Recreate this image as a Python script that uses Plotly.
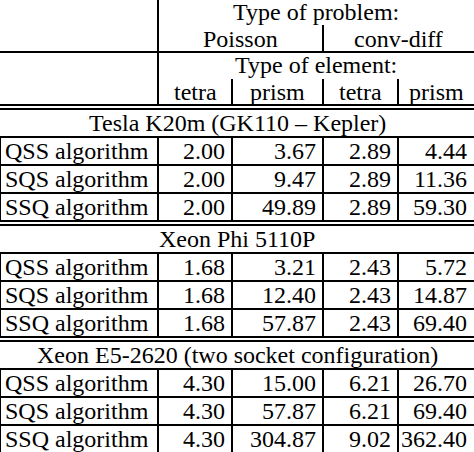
import plotly.graph_objects as go

# data
problems = ["Poisson", "conv-diff"]
elements = ["tetra", "prism", "tetra", "prism"]
devices = ["Tesla K20m (GK110 – Kepler)", "Xeon Phi 5110P", "Xeon E5-2620 (two socket configuration)"]
algorithms = ["QSS algorithm", "SQS algorithm", "SSQ algorithm"]
tesla = [[2.00, 3.67, 2.89, 4.44], [2.00, 9.47, 2.89, 11.36], [2.00, 49.89, 2.89, 59.30]]
xeon_phi = [[1.68, 3.21, 2.43, 5.72], [1.68, 12.40, 2.43, 14.87], [1.68, 57.87, 2.43, 69.40]]
xeon_e5 = [[4.30, 15.00, 6.21, 26.70], [4.30, 57.87, 6.21, 69.40], [4.30, 304.87, 9.02, 362.40]]
values = [tesla, xeon_phi, xeon_e5]

W, H = 474, 452
FONT = dict(family="Liberation Serif, DejaVu Serif, serif", size=24, color="black")
col_x = [0, 158, 232, 323, 398, 474]  # column borders

fig = go.Figure()
shapes = []
ann = []

def hline(y, x0=0, x1=W, w=2):
    shapes.append(dict(type="line", x0=x0, x1=x1, y0=y, y1=y, line=dict(color="black", width=w)))

def vline(x, y0, y1, w=2):
    shapes.append(dict(type="line", x0=x, x1=x, y0=y0, y1=y1, line=dict(color="black", width=w)))

def text(s, x, y, anchor="center"):
    ann.append(dict(text=s, x=x, y=y, xanchor=anchor, yanchor="middle", showarrow=False, font=FONT))

# header
text("Type of problem:", 316, 12)
text(problems[0], 240, 39)
text(problems[1], 398, 39)
text("Type of element:", 316, 65)
for i, e in enumerate(elements):
    text(e, (col_x[i + 1] + col_x[i + 2]) / 2, 92)
hline(52)
hline(105)
hline(109)
vline(158, 0, 105)
vline(323, 25, 52)
vline(323, 79, 105)
vline(232, 79, 105)
vline(398, 79, 105)

row_h = 28
y = 109
for d, dev in enumerate(devices):
    text(dev, 237, y + row_h / 2)
    y += row_h
    hline(y)
    for a, alg in enumerate(algorithms):
        text(alg, 3, y + row_h / 2, "left")
        for c, v in enumerate(values[d][a]):
            text(f"{v:.2f}", col_x[c + 2] - 5, y + row_h / 2, "right")
        for x in col_x[:-1]:
            vline(x, y, y + row_h)
        y += row_h
        hline(y)
    if d < len(devices) - 1:
        y += 4
        hline(y)

fig.update_layout(
    width=W, height=H, margin=dict(l=0, r=0, t=0, b=0),
    paper_bgcolor="white", plot_bgcolor="white",
    xaxis=dict(range=[0, W], visible=False, fixedrange=True),
    yaxis=dict(range=[H, 0], visible=False, fixedrange=True),
    shapes=shapes, annotations=ann, showlegend=False,
)
fig.write_html("out.html", config={"displayModeBar": False},
               post_script="document.body.style.margin='0';document.body.style.overflow='hidden';")
